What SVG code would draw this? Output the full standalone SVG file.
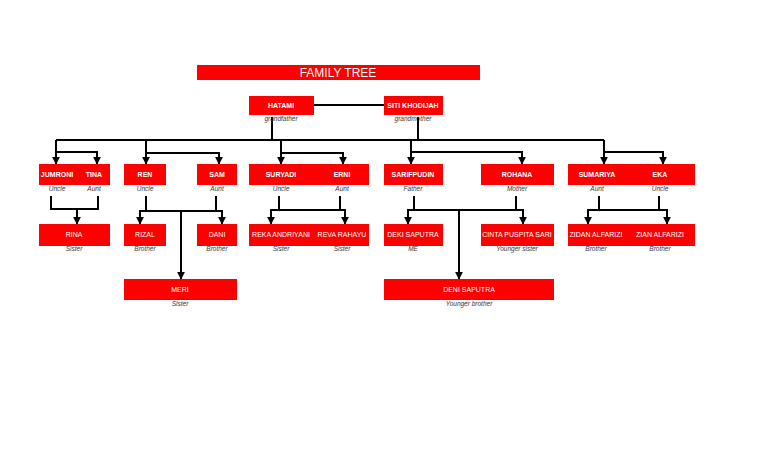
<svg xmlns="http://www.w3.org/2000/svg" width="768" height="466" viewBox="0 0 768 466">
<style>
.b{fill:#ff0000}
.n{font-family:"Liberation Sans",Arial,sans-serif;font-size:7px;fill:#fff;text-anchor:middle}
.bd{font-weight:bold}
.l{font-family:"Liberation Sans",Arial,sans-serif;font-size:6.5px;fill:#333;font-style:italic;text-anchor:middle}
.c{stroke:#000;stroke-width:2;fill:none}
.a{stroke:#000;stroke-width:2;fill:none;marker-end:url(#ar)}
.t{font-family:"Liberation Sans",Arial,sans-serif;font-size:12px;fill:#fff;text-anchor:middle}
</style>
<defs><marker id="ar" viewBox="0 0 10 10" refX="9" refY="5" markerWidth="4" markerHeight="4" orient="auto" markerUnits="strokeWidth"><path d="M0,0L10,5L0,10z" fill="#000"/></marker></defs>
<rect width="768" height="466" fill="#fff"/>
<g id="title"><rect class="b" x="197" y="65" width="283" height="15"/><text class="t" x="338" y="77">FAMILY TREE</text></g>
<g id="connectors">
<path class="c" d="M314 105H384M272 117V140M418 117V140M56 140H604"/>
<path class="a" d="M56 140V164"/><path class="a" d="M56 152H97V164"/>
<path class="a" d="M146 140V164"/><path class="a" d="M146 153H219V164"/>
<path class="a" d="M281 140V164"/><path class="a" d="M281 153H343V164"/>
<path class="a" d="M411 140V164"/><path class="a" d="M411 152H522V164"/>
<path class="a" d="M604 140V164"/><path class="a" d="M604 152H663V164"/>
<path class="c" d="M51 196V209H98V196"/><path class="a" d="M77 209V224"/>
<path class="c" d="M146 196V211M216 196V211"/><path class="a" d="M181 211H140V224"/><path class="a" d="M181 211H222V224"/><path class="a" d="M181 211V279"/>
<path class="c" d="M279 196V210M340 196V210"/><path class="a" d="M308 210H271V224"/><path class="a" d="M308 210H345V224"/>
<path class="c" d="M414 196V210M516 196V210"/><path class="a" d="M459 210H408V224"/><path class="a" d="M459 210H523V224"/><path class="a" d="M459 210V279"/>
<path class="c" d="M599 196V210M659 196V210"/><path class="a" d="M628 210H588V224"/><path class="a" d="M628 210H667V224"/>
</g>
<g id="hatami"><rect class="b" x="249" y="96" width="65" height="19"/><text class="n bd" x="281" y="108">HATAMI</text><text class="l" x="281" y="121">grandfather</text></g>
<g id="siti"><rect class="b" x="384" y="96" width="59" height="19"/><text class="n bd" x="413" y="108">SITI KHODIJAH</text><text class="l" x="413" y="121">grandmother</text></g>
<g id="jumroni-tina"><rect class="b" x="39" y="164" width="71" height="21"/><text class="n bd" x="57" y="177">JUMRONI</text><text class="n bd" x="94" y="177">TINA</text><text class="l" x="57" y="191">Uncle</text><text class="l" x="94" y="191">Aunt</text></g>
<g id="ren"><rect class="b" x="124" y="164" width="42" height="21"/><text class="n bd" x="145" y="177">REN</text><text class="l" x="145" y="191">Uncle</text></g>
<g id="sam"><rect class="b" x="197" y="164" width="40" height="21"/><text class="n bd" x="217" y="177">SAM</text><text class="l" x="217" y="191">Aunt</text></g>
<g id="suryadi-erni"><rect class="b" x="249" y="164" width="120" height="21"/><text class="n bd" x="281" y="177">SURYADI</text><text class="n bd" x="342" y="177">ERNI</text><text class="l" x="281" y="191">Uncle</text><text class="l" x="342" y="191">Aunt</text></g>
<g id="sarifpudin"><rect class="b" x="384" y="164" width="59" height="21"/><text class="n bd" x="413" y="177">SARIFPUDIN</text><text class="l" x="413" y="191">Father</text></g>
<g id="rohana"><rect class="b" x="481" y="164" width="73" height="21"/><text class="n bd" x="517" y="177">ROHANA</text><text class="l" x="517" y="191">Mother</text></g>
<g id="sumariya-eka"><rect class="b" x="568" y="164" width="127" height="21"/><text class="n bd" x="597" y="177">SUMARIYA</text><text class="n bd" x="660" y="177">EKA</text><text class="l" x="597" y="191">Aunt</text><text class="l" x="660" y="191">Uncle</text></g>
<g id="rina"><rect class="b" x="39" y="224" width="71" height="22"/><text class="n" x="74" y="237">RINA</text><text class="l" x="74" y="251">Sister</text></g>
<g id="rizal"><rect class="b" x="124" y="224" width="42" height="22"/><text class="n" x="145" y="237">RIZAL</text><text class="l" x="145" y="251">Brother</text></g>
<g id="dani"><rect class="b" x="197" y="224" width="40" height="22"/><text class="n" x="217" y="237">DANI</text><text class="l" x="217" y="251">Brother</text></g>
<g id="reka-reva"><rect class="b" x="249" y="224" width="120" height="22"/><text class="n" x="281" y="237">REKA ANDRIYANI</text><text class="n" x="342" y="237">REVA RAHAYU</text><text class="l" x="281" y="251">Sister</text><text class="l" x="342" y="251">Sister</text></g>
<g id="deki"><rect class="b" x="384" y="224" width="59" height="22"/><text class="n" x="413" y="237">DEKI SAPUTRA</text><text class="l" x="413" y="251">ME</text></g>
<g id="cinta"><rect class="b" x="481" y="224" width="73" height="22"/><text class="n" x="517" y="237">CINTA PUSPITA SARI</text><text class="l" x="517" y="251">Younger sister</text></g>
<g id="zidan-zian"><rect class="b" x="568" y="224" width="127" height="22"/><text class="n" x="596" y="237">ZIDAN ALFARIZI</text><text class="n" x="660" y="237">ZIAN ALFARIZI</text><text class="l" x="596" y="251">Brother</text><text class="l" x="660" y="251">Brother</text></g>
<g id="meri"><rect class="b" x="124" y="279" width="113" height="21"/><text class="n" x="180" y="292">MERI</text><text class="l" x="180" y="306">Sister</text></g>
<g id="deni"><rect class="b" x="384" y="279" width="170" height="21"/><text class="n" x="469" y="292">DENI SAPUTRA</text><text class="l" x="469" y="306">Younger brother</text></g>
</svg>
